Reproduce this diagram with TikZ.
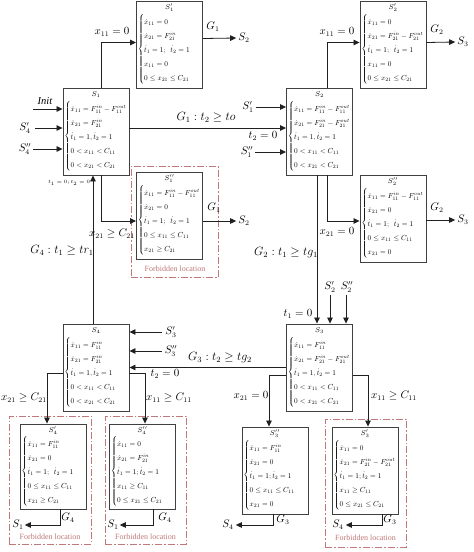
\documentclass[tikz,border=0pt]{standalone}
\usepackage{fontspec}
\usepackage{graphicx}
\setmainfont{Liberation Serif}
\usetikzlibrary{arrows.meta,calc}
\definecolor{boxline}{HTML}{404040}
\definecolor{forbid}{HTML}{C07878}
\definecolor{conn}{HTML}{202020}
\newcommand{\sysfive}[5]{\scalebox{0.73}{\fontsize{10}{19.2}\selectfont$\left\{\begin{array}{@{}l@{}}#1\\#2\\#3\\#4\\#5\end{array}\right.$}}
\tikzset{
 sbox/.style={draw=boxline, line width=0.9pt, minimum width=66pt, minimum height=87pt, inner sep=0pt, fill=white},
 frame/.style={draw=forbid, line width=0.8pt, dash pattern=on 7pt off 2pt on 1.5pt off 2pt, inner sep=0pt},
 arr/.style={draw=conn, line width=0.8pt, -{Triangle[length=6pt,width=5.5pt]}},
 lab/.style={font=\fontsize{10.5}{13}\selectfont, inner sep=0pt},
 glab/.style={font=\fontsize{11.5}{14}\selectfont, inner sep=0pt},
 small/.style={font=\fontsize{5.5}{7}\selectfont, inner sep=0pt},
 ttl/.style={font=\fontsize{7.5}{9}\selectfont, inner sep=0pt},
 eqs/.style={inner sep=0pt, anchor=west},
 ftxt/.style={text=forbid, font=\fontsize{8}{10}\selectfont, inner sep=0pt},
}
\begin{document}
\begin{tikzpicture}[x=1pt,y=-1pt]
\useasboundingbox[fill=white] (0,0) rectangle (474,552);

% forbidden frames
\node[frame, minimum width=87pt, minimum height=111pt] (F1) at (174.5,221.5) {};
\node[frame, minimum width=82pt, minimum height=128pt] (F2) at (50,480) {};
\node[frame, minimum width=81pt, minimum height=128pt] (F3) at (145.5,480) {};
\node[frame, minimum width=81pt, minimum height=128pt] (F4) at (365.5,483) {};
\node[ftxt] (F1t) at (175,269) {Forbidden location};
\node[ftxt] (F2t) at (50,537) {Forbidden location};
\node[ftxt] (F3t) at (145.5,537) {Forbidden location};
\node[ftxt] (F4t) at (365.5,538) {Forbidden location};

% ---------------- boxes ----------------
% S1
\node[sbox] (S1) at (96,131.5) {};
\node[ttl] (S1t) at ([yshift=-7]S1.north) {$S_1$};
\node[eqs] (S1e) at ([xshift=1.5,yshift=-5]S1.west) {\sysfive{\dot x_{11}=F_{11}^{in}-F_{11}^{out}}{\dot x_{21}=F_{21}^{in}}{\dot t_1=1,\dot t_2=1}{0<x_{11}<C_{11}}{0<x_{21}<C_{21}}};
% S1'
\node[sbox] (S1p) at (169.5,44.5) {};
\node[ttl] (S1pt) at ([yshift=-7]S1p.north) {$S_1'$};
\node[eqs] (S1pe) at ([xshift=1.5,yshift=-5]S1p.west) {\sysfive{\dot x_{11}=0}{\dot x_{21}=F_{21}^{in}}{\dot t_1=1;\ \ \dot t_2=1}{x_{11}=0}{0\le x_{21}\le C_{21}}};
% S1''
\node[sbox] (S1pp) at (169.5,215.5) {};
\node[ttl] (S1ppt) at ([yshift=-7]S1pp.north) {$S_1''$};
\node[eqs] (S1ppe) at ([xshift=1.5,yshift=-5]S1pp.west) {\sysfive{\dot x_{11}=F_{11}^{in}-F_{11}^{out}}{\dot x_{21}=0}{\dot t_1=1;\ \ \dot t_2=1}{0\le x_{11}\le C_{11}}{x_{21}\ge C_{21}}};
% S2
\node[sbox] (S2) at (319.5,131.5) {};
\node[ttl] (S2t) at ([yshift=-7]S2.north) {$S_2$};
\node[eqs] (S2e) at ([xshift=1.5,yshift=-5]S2.west) {\sysfive{\dot x_{11}=F_{11}^{in}-F_{11}^{out}}{\dot x_{21}=F_{21}^{in}-F_{21}^{out}}{\dot t_1=1,\dot t_2=1}{0<x_{11}<C_{11}}{0<x_{21}<C_{21}}};
% S2'
\node[sbox] (S2p) at (393,44.5) {};
\node[ttl] (S2pt) at ([yshift=-7]S2p.north) {$S_2'$};
\node[eqs] (S2pe) at ([xshift=1.5,yshift=-5]S2p.west) {\sysfive{\dot x_{11}=0}{\dot x_{21}=F_{21}^{in}-F_{21}^{out}}{\dot t_1=1;\ \ \dot t_2=1}{x_{11}=0}{0\le x_{21}\le C_{21}}};
% S2''
\node[sbox] (S2pp) at (393,218.5) {};
\node[ttl] (S2ppt) at ([yshift=-7]S2pp.north) {$S_2''$};
\node[eqs] (S2ppe) at ([xshift=1.5,yshift=-5]S2pp.west) {\sysfive{\dot x_{11}=F_{11}^{in}-F_{11}^{out}}{\dot x_{21}=0}{\dot t_1=1;\ \ \dot t_2=1}{0\le x_{11}\le C_{11}}{x_{21}=0}};
% S3
\node[sbox] (S3) at (319.5,367.5) {};
\node[ttl] (S3t) at ([yshift=-7]S3.north) {$S_3$};
\node[eqs] (S3e) at ([xshift=1.5,yshift=-5]S3.west) {\sysfive{\dot x_{11}=F_{11}^{in}}{\dot x_{21}=F_{21}^{in}-F_{21}^{out}}{\dot t_1=1,\dot t_2=1}{0<x_{11}<C_{11}}{0<x_{21}<C_{21}}};
% S4
\node[sbox] (S4) at (96,367.5) {};
\node[ttl] (S4t) at ([yshift=-7]S4.north) {$S_4$};
\node[eqs] (S4e) at ([xshift=1.5,yshift=-5]S4.west) {\sysfive{\dot x_{11}=F_{11}^{in}}{\dot x_{21}=F_{21}^{in}}{\dot t_1=1,\dot t_2=1}{0<x_{11}<C_{11}}{0<x_{21}<C_{21}}};
% S4'
\node[sbox, minimum height=85pt] (S4p) at (53,466.5) {};
\node[ttl] (S4pt) at ([yshift=-7]S4p.north) {$S_4'$};
\node[eqs] (S4pe) at ([xshift=1.5,yshift=-5]S4p.west) {\sysfive{\dot x_{11}=F_{11}^{in}}{\dot x_{21}=0}{\dot t_1=1;\ \ \dot t_2=1}{0\le x_{11}\le C_{11}}{x_{21}\ge C_{21}}};
% S4''
\node[sbox, minimum height=85pt] (S4pp) at (142.5,466.5) {};
\node[ttl] (S4ppt) at ([yshift=-7]S4pp.north) {$S_4''$};
\node[eqs] (S4ppe) at ([xshift=1.5,yshift=-5]S4pp.west) {\sysfive{\dot x_{11}=0}{\dot x_{21}=F_{21}^{in}}{\dot t_1=1;\dot t_2=1}{x_{11}\ge C_{11}}{0\le x_{21}\le C_{21}}};
% S3''
\node[sbox] (S3pp) at (275,470.5) {};
\node[ttl] (S3ppt) at ([yshift=-7]S3pp.north) {$S_3''$};
\node[eqs] (S3ppe) at ([xshift=1.5,yshift=-5]S3pp.west) {\sysfive{\dot x_{11}=F_{11}^{in}}{\dot x_{21}=0}{\dot t_1=1;\dot t_2=1}{0\le x_{11}\le C_{11}}{x_{21}=0}};
% S3'
\node[sbox] (S3p) at (365,470.5) {};
\node[ttl] (S3pt) at ([yshift=-7]S3p.north) {$S_3'$};
\node[eqs] (S3pe) at ([xshift=1.5,yshift=-5]S3p.west) {\sysfive{\dot x_{11}=0}{\dot x_{21}=F_{21}^{in}-F_{21}^{out}}{\dot t_1=1;\dot t_2=1}{x_{11}\ge C_{11}}{0\le x_{21}\le C_{21}}};

% ---------------- S1 connectors ----------------
\draw[arr] ([xshift=5]S1.north) |- ([yshift=2]S1p.west);
\node[lab] (l1) at (112,32) {$x_{11}=0$};
\node[lab] (o1) at (244,38) {$S_2$};
\draw[arr] ([yshift=6]S1p.east) -- ([xshift=-2]o1.west);
\node[lab] (g1a) at (213,27) {$G_1$};

\draw[arr] ([yshift=3.5]S1.east) -- ([yshift=3.5]S2.west);
\node[glab] (g1b) at (206,117) {$G_1:t_2\ge to$};
\node[lab] (t20a) at (263,136) {$t_2=0$};

\node[lab] (init) at (45,101) {$\mathit{Init}$};
\coordinate (initl) at (33,109);
\draw[arr] (initl) -- (initl -| S1.west);
\node[lab] (s4pin) at (25,128) {$S_4'$};
\draw[arr] ([xshift=4]s4pin.east) -- (s4pin.east -| S1.west);
\node[lab] (s4ppin) at (25,149) {$S_4''$};
\draw[arr] ([xshift=2]s4ppin.east) -- (s4ppin.east -| S1.west);

\draw[arr] ([xshift=5]S1.south) |- ([yshift=-5.5]S1pp.west);
\node[lab] (l2) at (112,234) {$x_{21}\ge C_{21}$};
\node[lab] (o2) at (244,221) {$S_2$};
\draw[arr] ([yshift=-5.5]S1pp.east) -- ([xshift=-2]o2.west);
\node[lab] (g1c) at (214,208) {$G_1$};

\draw[arr] ([xshift=-3]S4.north) -- ([xshift=-3]S1.south);
\node[small] (t0a) at (69,183) {$t_1=0;t_2=0$};
\node[glab] (g4a) at (62,250) {$G_4:t_1\ge tr_1$};

% ---------------- S2 connectors ----------------
\node[lab] (s1pin) at (248,107) {$S_1'$};
\draw[arr] ([xshift=2]s1pin.east) -- (s1pin.east -| S2.west);
\node[lab] (s1ppin) at (247,152) {$S_1''$};
\draw[arr] ([xshift=2]s1ppin.east) -- (s1ppin.east -| S2.west);

\draw[arr] ([xshift=7.5]S2.north) |- ([yshift=2]S2p.west);
\node[lab] (l3) at (337,32) {$x_{11}=0$};
\node[lab] (o3) at (463,42) {$S_3$};
\draw[arr] ([yshift=2]S2p.east) -- ([xshift=-2]o3.west);
\node[lab] (g2a) at (437,30) {$G_2$};

\draw[arr] ([xshift=7.5]S2.south) |- ([yshift=-2.5]S2pp.west);
\node[lab] (l4) at (337,232) {$x_{21}=0$};
\node[lab] (o4) at (463,220) {$S_3$};
\draw[arr] ([yshift=-1.5]S2pp.east) -- ([xshift=-2]o4.west);
\node[lab] (g2b) at (437,208) {$G_2$};

\draw[arr] ([xshift=-2.5]S2.south) -- ([xshift=-2.5]S3.north);
\node[glab] (g2c) at (286,253) {$G_2:t_1\ge tg_1$};
\node[lab] (t10) at (298,314) {$t_1=0$};

\node[lab] (s2pin) at (330,287) {$S_2'$};
\draw[arr] ([yshift=-3]s2pin.south) -- (s2pin.south |- S3.north);
\node[lab] (s2ppin) at (347,287) {$S_2''$};
\draw[arr] ([xshift=-1,yshift=-3]s2ppin.south) -- ([xshift=-1]s2ppin.south |- S3.north);

% ---------------- S3 / S4 connectors ----------------
\draw[arr] (S3.west) -- (S4.east);
\node[glab] (g3a) at (220,358) {$G_3:t_2\ge tg_2$};
\node[lab] (t20b) at (165,374) {$t_2=0$};

\node[lab] (s3pin) at (171,332) {$S_3'$};
\draw[arr] ([xshift=-3]s3pin.west) -- (s3pin.west -| S4.east);
\node[lab] (s3ppin) at (171,351) {$S_3''$};
\draw[arr] ([xshift=-3]s3ppin.west) -- (s3ppin.west -| S4.east);

\draw[arr] ([yshift=-5.5]S4.west) -| ([xshift=-6]S4p.north);
\node[lab] (l5) at (24,398) {$x_{21}\ge C_{21}$};
\draw[arr] ([yshift=-5.5]S4.east) -| ([xshift=2.5]S4pp.north);
\node[lab] (l6) at (169,398) {$x_{11}\ge C_{11}$};

\draw[arr] ([yshift=-7.5]S3.west) -| ([xshift=-6]S3pp.north);
\node[lab] (l7) at (251,396) {$x_{21}=0$};
\draw[arr] ([yshift=-7.5]S3.east) -| ([xshift=3]S3p.north);
\node[lab] (l8) at (394,396) {$x_{11}\ge C_{11}$};

% ---------------- bottom exits ----------------
\node[lab] (b1) at (18,525) {$S_1$};
\draw[arr] ([xshift=7]S4p.south) |- ([xshift=1]b1.east);
\node[lab] (g4b) at (68,518) {$G_4$};
\node[lab] (b2) at (113,525) {$S_1$};
\draw[arr] ([xshift=10.5]S4pp.south) |- ([xshift=1]b2.east);
\node[lab] (g4c) at (165,518) {$G_4$};
\node[lab] (b3) at (228,525) {$S_4$};
\draw[arr] ([xshift=-2]S3pp.south) |- ([xshift=2]b3.east);
\node[lab] (g3b) at (283,520) {$G_3$};
\node[lab] (b4) at (338,525) {$S_4$};
\draw[arr] ([xshift=17]S3p.south) |- ([xshift=2]b4.east);
\node[lab] (g3c) at (390,520) {$G_3$};
\end{tikzpicture}
\end{document}
